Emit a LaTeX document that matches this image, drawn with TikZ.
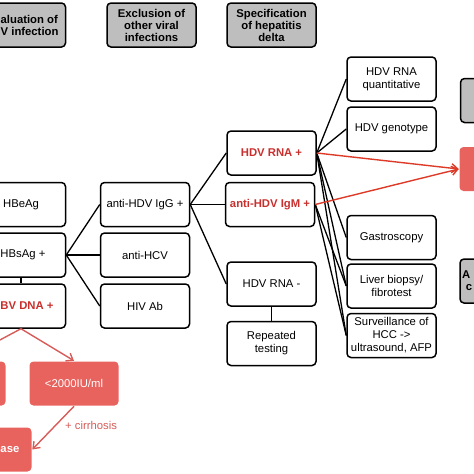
\documentclass[tikz,border=0pt]{standalone}
\usepackage{fontspec}
\setmainfont{Liberation Sans}
\usetikzlibrary{arrows.meta}

\definecolor{headgray}{RGB}{190,190,190}
\definecolor{boxred}{RGB}{232,98,94}
\definecolor{textred}{RGB}{200,48,46}
\definecolor{arrowred}{RGB}{222,58,40}
\definecolor{softred}{RGB}{214,92,88}

\begin{document}
\begin{tikzpicture}[x=1pt,y=-1pt,
    box/.style={draw, rounded corners=4pt, line width=1.5pt, minimum width=89pt,
        minimum height=44pt, align=center, inner sep=2pt,
        font=\fontsize{11.3}{13}\selectfont},
    head/.style={box, fill=headgray, font=\fontsize{11.3}{12}\selectfont\bfseries},
    hot/.style={box, text=textred, font=\fontsize{11.3}{13}\selectfont\bfseries},
    redbox/.style={box, draw=none, fill=boxred, text=white},
    cut/.style={anchor=west, align=left, inner sep=0pt},
    link/.style={line width=1.3pt},
    redlink/.style={line width=1.4pt, draw=arrowred, -{Straight Barb[length=6pt,width=9pt]}},
    softlink/.style={line width=1.4pt, draw=softred, -{Straight Barb[length=6pt,width=9pt]}}]

    \useasboundingbox (0,0) rectangle (474,474);
    \clip (0,0) rectangle (474,474);

    % headers
    \node[head] (evalhbv) at (21,25) {};
    \node[cut, font=\fontsize{11.3}{12}\selectfont\bfseries] (evaltext) at (0.5,25) {aluation of\\V infection};
    \node[head] (exclvir) at (151.5,25) {Exclusion of\\other viral\\infections};
    \node[head] (specdelta) at (271.5,25) {Specification\\of hepatitis\\delta};
    \node[head] (grayA) at (505,100.5) {};
    \node[head, text width=85pt, align=left, inner xsep=2pt] (grayB) at (504.5,281) {A\\\ c};

    % first column
    \node[box] (hbeag) at (21,204.5) {HBeAg};
    \node[box] (hbsag) at (21,255) {};
    \node[cut, font=\fontsize{11.3}{13}\selectfont] (hbsagtext) at (0.3,255) {HBsAg +};
    \node[hot] (hbvdna) at (21,306) {};
    \node[cut, text=textred, font=\fontsize{11.3}{13}\selectfont\bfseries] (hbvdnatext) at (0.3,306) {BV DNA +};

    % second column
    \node[box] (igg) at (145,204.5) {anti-HDV IgG +};
    \node[box] (hcv) at (145,255) {anti-HCV};
    \node[box] (hiv) at (145,306) {HIV Ab};

    % third column
    \node[hot] (rnapos) at (271.5,153) {HDV RNA +};
    \node[hot] (igm) at (270,204.5) {anti-HDV IgM +};
    \node[box] (rnaneg) at (271.5,284) {HDV RNA -};
    \node[box] (retest) at (271.5,343.5) {Repeated\\testing};

    % fourth column
    \node[box] (rnaquant) at (391.5,79) {HDV RNA\\quantitative};
    \node[box] (genotype) at (391.5,129) {HDV genotype};
    \node[box] (gastro) at (391.5,237.5) {Gastroscopy};
    \node[box] (biopsy) at (391.5,286) {Liver biopsy/\\fibrotest};
    \node[box] (hcc) at (391.5,335.5) {Surveillance of\\HCC ->\\ultrasound, AFP};

    \node[redbox] (therapy) at (504,169) {};

    % lower red part
    \node[redbox] (high) at (-39,383.5) {};
    \node[redbox] (low) at (74,383.5) {<2000IU/ml};
    \node[redbox] (cirr) at (-13,449.5) {};
    \node[cut, text=white, font=\fontsize{11.3}{13}\selectfont\bfseries] (cirrtext) at (0.3,449.5) {ase};

    \draw[link] (hbsag) -- (hbvdna);
    \draw[link] (hbsag.east) -- (igg.west);
    \draw[link] (hbsag.east) -- (hcv.west);
    \draw[link] (hbsag.east) -- (hiv.west);

    \draw[link] (igg.east) -- (rnapos.west);
    \draw[link] (igg.east) -- (igm.west);
    \draw[link] (igg.east) -- (rnaneg.west);
    \draw[link] (rnaneg) -- (retest);

    \foreach \t in {rnaquant,genotype,gastro,biopsy,hcc}
        \draw[link] (rnapos.east) -- (\t.west);
    \foreach \t in {biopsy,hcc}
        \draw[link] (igm.east) -- (\t.west);

    \draw[redlink] (rnapos.east) -- (therapy.west);
    \draw[redlink] (igm.east) -- (therapy.west);

    \draw[softlink] (hbvdna.south) -- (high.north);
    \draw[softlink] (hbvdna.south) -- (low.north);
    \draw[softlink] (low.south) -- node[right, text=softred, pos=0.45,
        font=\fontsize{11.3}{13}\selectfont, xshift=6pt] (cirrlabel) {+ cirrhosis} (cirr.east);
\end{tikzpicture}
\end{document}
